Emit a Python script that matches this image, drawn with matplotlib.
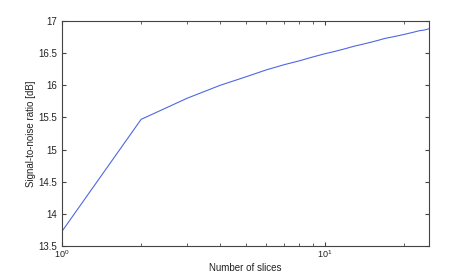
import matplotlib
matplotlib.use("Agg")
import matplotlib.pyplot as plt
from matplotlib.ticker import LogLocator, FixedLocator, NullFormatter

slices = list(range(1, 26))
snr_db = [13.73, 15.47, 15.80, 16.00, 16.13, 16.24, 16.32, 16.38, 16.44, 16.49,
          16.53, 16.57, 16.61, 16.64, 16.67, 16.70, 16.73, 16.75, 16.77, 16.79,
          16.81, 16.83, 16.85, 16.86, 16.88]
yticks = [13.5, 14, 14.5, 15, 15.5, 16, 16.5, 17]
ytick_labels = ["13.5", "14", "14.5", "15", "15.5", "16", "16.5", "17"]

plt.rcParams['font.family'] = ['Liberation Sans', 'DejaVu Sans']
plt.rcParams['mathtext.fontset'] = 'custom'
plt.rcParams['mathtext.rm'] = 'Liberation Sans'
fig = plt.figure(figsize=(4.74, 2.77), dpi=100)
ax = fig.add_axes([0.131, 0.112, 0.774, 0.812])
ax.plot(slices, snr_db, color='#5068e0', lw=0.8)
ax.set_xscale('log')
ax.set_xlim(1, 25)
ax.set_ylim(13.5, 17)
ax.set_yticks(yticks)
ax.set_yticklabels(ytick_labels)
ax.xaxis.set_major_locator(FixedLocator([1, 10]))
ax.set_xticklabels([r'$\mathrm{10^0}$', r'$\mathrm{10^1}$'])
ax.xaxis.set_minor_locator(LogLocator(base=10, subs=range(2, 10)))
ax.xaxis.set_minor_formatter(NullFormatter())
for s in ax.spines.values():
    s.set_color('#444444')
    s.set_linewidth(0.8)
ax.tick_params(which='both', direction='in', top=True, right=True, colors='#444444',
               labelcolor='#222222', labelsize=7)
ax.tick_params(axis='x', which='major', labelsize=6.5, pad=2)
ax.tick_params(which='major', length=3)
ax.tick_params(which='minor', length=2)
ax.set_xlabel('Number of slices', fontsize=7, color='#222222', labelpad=2)
ax.set_ylabel('Signal-to-noise ratio [dB]', fontsize=7, color='#222222', labelpad=2)
fig.savefig('out.png', dpi=100)
